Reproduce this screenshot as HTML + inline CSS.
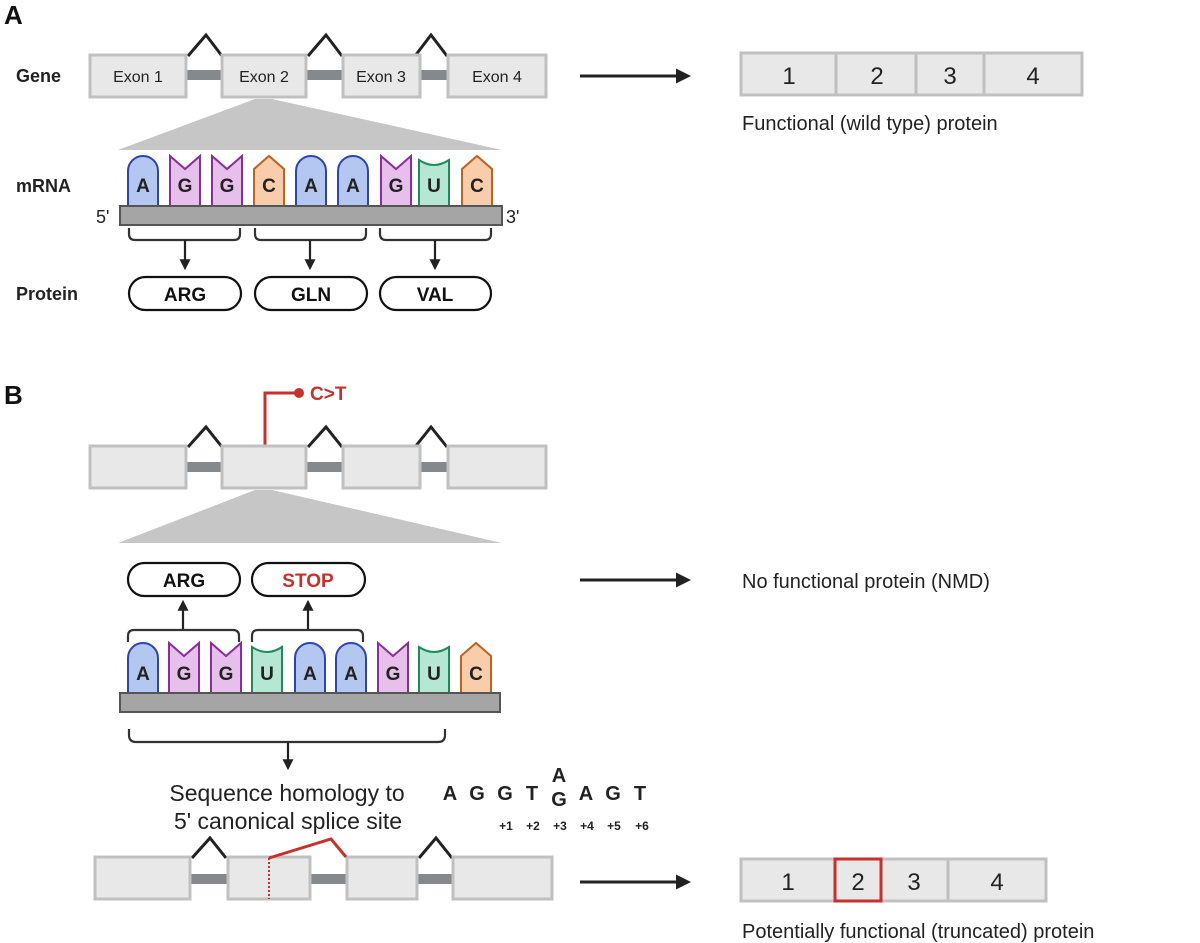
<!DOCTYPE html>
<html><head><meta charset="utf-8"><style>
html,body{margin:0;padding:0;background:#fff;}
svg{display:block;font-family:"Liberation Sans",Arial,sans-serif;}
.ex{fill:#e8e8e8;stroke:#c0c0c0;stroke-width:3;}
.lbl{font-size:16px;fill:#222;}
.car{fill:none;stroke:#222;stroke-width:3;}
.br{fill:none;stroke:#333;stroke-width:2.2;}
.pill{fill:#fff;stroke:#111;stroke-width:2.2;}
.nt{font-size:19px;font-weight:bold;fill:#222;text-anchor:middle;}
</style></head><body>
<svg width="1200" height="943" viewBox="0 0 1200 943" xmlns="http://www.w3.org/2000/svg">
<defs>
<marker id="ah" viewBox="0 0 10 10" refX="8" refY="5" markerWidth="5" markerHeight="5" orient="auto"><path d="M0,0 L10,5 L0,10 Z" fill="#222"/></marker>
<path id="nA" d="M0,50 V15 A15,15 0 0 1 30,15 V50 Z" fill="#b4c7f1" stroke="#2c45b4" stroke-width="2"/>
<path id="nG" d="M0,50 V0 L15,13 L30,0 V50 Z" fill="#e6c0eb" stroke="#8b2c9c" stroke-width="2"/>
<path id="nC" d="M0,50 V13 L15,0 L30,13 V50 Z" fill="#f8cdab" stroke="#c2621c" stroke-width="2"/>
<path id="nU" d="M0,50 V4 Q15,14 30,4 V50 Z" fill="#b5e7d4" stroke="#1f8b5b" stroke-width="2"/>
</defs>

<!-- ===== A ===== -->
<text x="4" y="24" font-size="26" font-weight="bold" fill="#111">A</text>
<text x="16" y="82" font-size="18" font-weight="bold" fill="#222">Gene</text>
<rect x="186" y="70" width="36" height="10" fill="#85898b"/>
<rect x="306" y="70" width="37" height="10" fill="#85898b"/>
<rect x="420" y="70" width="28" height="10" fill="#85898b"/>
<polyline class="car" points="188,56 206,35 222,56"/>
<polyline class="car" points="308,56 326,35 342,56"/>
<polyline class="car" points="415,56 431,35 447,56"/>
<rect class="ex" x="90" y="55" width="96" height="42"/>
<rect class="ex" x="222" y="55" width="84" height="42"/>
<rect class="ex" x="343" y="55" width="77" height="42"/>
<rect class="ex" x="448" y="55" width="98" height="42"/>
<text class="lbl" x="138" y="82" text-anchor="middle">Exon 1</text>
<text class="lbl" x="264" y="82" text-anchor="middle">Exon 2</text>
<text class="lbl" x="381" y="82" text-anchor="middle">Exon 3</text>
<text class="lbl" x="497" y="82" text-anchor="middle">Exon 4</text>
<polygon points="255,99 272,99 502,150 118,150" fill="#c6c6c6"/>

<text x="16" y="192" font-size="18" font-weight="bold" fill="#222">mRNA</text>
<use href="#nA" x="128" y="156"/><use href="#nG" x="170" y="156"/><use href="#nG" x="212" y="156"/>
<use href="#nC" x="254" y="156"/><use href="#nA" x="296" y="156"/><use href="#nA" x="338" y="156"/>
<use href="#nG" x="381" y="156"/><use href="#nU" x="419" y="156"/><use href="#nC" x="462" y="156"/>
<g class="nt"><text x="143" y="192">A</text><text x="185" y="192">G</text><text x="227" y="192">G</text><text x="269" y="192">C</text><text x="311" y="192">A</text><text x="353" y="192">A</text><text x="396" y="192">G</text><text x="434" y="192">U</text><text x="477" y="192">C</text></g>
<rect x="120" y="206" width="382" height="19" fill="#a5a5a5" stroke="#555" stroke-width="2"/>
<text x="96" y="223" font-size="18" fill="#222">5'</text>
<text x="506" y="223" font-size="18" fill="#222">3'</text>
<path class="br" d="M129,228 V234 Q129,240 135,240 H234 Q240,240 240,234 V228"/>
<path class="br" d="M255,228 V234 Q255,240 261,240 H360 Q366,240 366,234 V228"/>
<path class="br" d="M380,228 V234 Q380,240 386,240 H485 Q491,240 491,234 V228"/>
<line x1="185" y1="240" x2="185" y2="268" stroke="#222" stroke-width="2.2" marker-end="url(#ah)"/>
<line x1="310" y1="240" x2="310" y2="268" stroke="#222" stroke-width="2.2" marker-end="url(#ah)"/>
<line x1="435" y1="240" x2="435" y2="268" stroke="#222" stroke-width="2.2" marker-end="url(#ah)"/>
<text x="16" y="300" font-size="18" font-weight="bold" fill="#222">Protein</text>
<rect class="pill" x="129" y="277" width="112" height="33" rx="16.5"/>
<rect class="pill" x="255" y="277" width="112" height="33" rx="16.5"/>
<rect class="pill" x="380" y="277" width="111" height="33" rx="16.5"/>
<g font-size="19" font-weight="bold" fill="#111" text-anchor="middle"><text x="185" y="301">ARG</text><text x="311" y="301">GLN</text><text x="435" y="301">VAL</text></g>

<line x1="580" y1="76" x2="688" y2="76" stroke="#222" stroke-width="3" marker-end="url(#ah)"/>
<rect class="ex" x="741" y="53" width="341" height="42"/>
<line x1="836" y1="53" x2="836" y2="95" stroke="#c0c0c0" stroke-width="3"/>
<line x1="916" y1="53" x2="916" y2="95" stroke="#c0c0c0" stroke-width="3"/>
<line x1="984" y1="53" x2="984" y2="95" stroke="#c0c0c0" stroke-width="3"/>
<g font-size="24" fill="#222" text-anchor="middle"><text x="789" y="84">1</text><text x="877" y="84">2</text><text x="950" y="84">3</text><text x="1033" y="84">4</text></g>
<text x="742" y="130" font-size="20" fill="#222">Functional (wild type) protein</text>

<!-- ===== B ===== -->
<text x="4" y="404" font-size="26" font-weight="bold" fill="#111">B</text>
<rect x="186" y="462" width="36" height="10" fill="#85898b"/>
<rect x="306" y="462" width="37" height="10" fill="#85898b"/>
<rect x="420" y="462" width="28" height="10" fill="#85898b"/>
<polyline class="car" points="188,447 206,427 222,447"/>
<polyline class="car" points="308,447 326,427 342,447"/>
<polyline class="car" points="415,447 431,427 447,447"/>
<polyline points="265,446 265,393 298,393" fill="none" stroke="#c8302c" stroke-width="3"/>
<circle cx="299" cy="393" r="5" fill="#c8302c"/>
<text x="310" y="400" font-size="19" font-weight="bold" fill="#c8302c">C&gt;T</text>
<rect class="ex" x="90" y="446" width="96" height="42"/>
<rect class="ex" x="222" y="446" width="84" height="42"/>
<rect class="ex" x="343" y="446" width="77" height="42"/>
<rect class="ex" x="448" y="446" width="98" height="42"/>
<polygon points="255,490 272,490 502,543 118,543" fill="#c6c6c6"/>

<rect class="pill" x="128" y="563" width="112" height="33" rx="16.5"/>
<rect class="pill" x="252" y="563" width="113" height="33" rx="16.5"/>
<text x="184" y="587" font-size="19" font-weight="bold" fill="#111" text-anchor="middle">ARG</text>
<text x="308" y="587" font-size="19" font-weight="bold" fill="#c8302c" text-anchor="middle">STOP</text>
<line x1="183" y1="630" x2="183" y2="602" stroke="#222" stroke-width="2.2" marker-end="url(#ah)"/>
<line x1="308" y1="630" x2="308" y2="602" stroke="#222" stroke-width="2.2" marker-end="url(#ah)"/>
<path class="br" d="M128,642 V636 Q128,630 134,630 H233 Q239,630 239,636 V642"/>
<path class="br" d="M252,642 V636 Q252,630 258,630 H357 Q363,630 363,636 V642"/>
<use href="#nA" x="128" y="643"/><use href="#nG" x="169" y="643"/><use href="#nG" x="211" y="643"/>
<use href="#nU" x="252" y="643"/><use href="#nA" x="295" y="643"/><use href="#nA" x="336" y="643"/>
<use href="#nG" x="378" y="643"/><use href="#nU" x="419" y="643"/><use href="#nC" x="461" y="643"/>
<g class="nt"><text x="143" y="680">A</text><text x="184" y="680">G</text><text x="226" y="680">G</text><text x="267" y="680">U</text><text x="310" y="680">A</text><text x="351" y="680">A</text><text x="393" y="680">G</text><text x="434" y="680">U</text><text x="476" y="680">C</text></g>
<rect x="120" y="693" width="380" height="19" fill="#a5a5a5" stroke="#555" stroke-width="2"/>
<path class="br" d="M129,729 V735 Q129,742 136,742 H438 Q445,742 445,735 V729"/>
<line x1="288" y1="742" x2="288" y2="768" stroke="#222" stroke-width="2.2" marker-end="url(#ah)"/>
<text x="287" y="801" font-size="23" fill="#222" text-anchor="middle">Sequence homology to</text>
<text x="288" y="829" font-size="23" fill="#222" text-anchor="middle">5' canonical splice site</text>
<g font-size="20" font-weight="bold" fill="#222" text-anchor="middle">
<text x="450" y="800">A</text><text x="477" y="800">G</text><text x="505" y="800">G</text><text x="532" y="800">T</text>
<text x="559" y="782">A</text><text x="559" y="806">G</text>
<text x="586" y="800">A</text><text x="613" y="800">G</text><text x="640" y="800">T</text></g>
<g font-size="12" font-weight="bold" fill="#222" text-anchor="middle">
<text x="506" y="830">+1</text><text x="533" y="830">+2</text><text x="560" y="830">+3</text><text x="587" y="830">+4</text><text x="614" y="830">+5</text><text x="642" y="830">+6</text></g>

<rect x="190" y="874" width="38" height="10" fill="#85898b"/>
<rect x="310" y="874" width="37" height="10" fill="#85898b"/>
<rect x="417" y="874" width="36" height="10" fill="#85898b"/>
<polyline class="car" points="192,858 210,838 226,858"/>
<polyline class="car" points="419,858 436,838 452,858"/>
<rect class="ex" x="95" y="857" width="95" height="42"/>
<rect class="ex" x="228" y="857" width="82" height="42"/>
<rect class="ex" x="347" y="857" width="70" height="42"/>
<rect class="ex" x="453" y="857" width="99" height="42"/>
<line x1="269" y1="858" x2="269" y2="899" stroke="#c8302c" stroke-width="2" stroke-dasharray="2,2"/>
<polyline points="269,858 331,839 346,857" fill="none" stroke="#c8302c" stroke-width="3"/>

<line x1="580" y1="580" x2="688" y2="580" stroke="#222" stroke-width="3" marker-end="url(#ah)"/>
<text x="742" y="588" font-size="20" fill="#222">No functional protein (NMD)</text>
<line x1="580" y1="882" x2="688" y2="882" stroke="#222" stroke-width="3" marker-end="url(#ah)"/>
<rect class="ex" x="741" y="859" width="305" height="42"/>
<line x1="948" y1="859" x2="948" y2="901" stroke="#c0c0c0" stroke-width="3"/>
<rect x="835" y="859" width="46" height="42" fill="none" stroke="#c8302c" stroke-width="3"/>
<g font-size="24" fill="#222" text-anchor="middle"><text x="788" y="890">1</text><text x="858" y="890">2</text><text x="914" y="890">3</text><text x="997" y="890">4</text></g>
<text x="742" y="938" font-size="20" fill="#222">Potentially functional (truncated) protein</text>
</svg>
</body></html>
